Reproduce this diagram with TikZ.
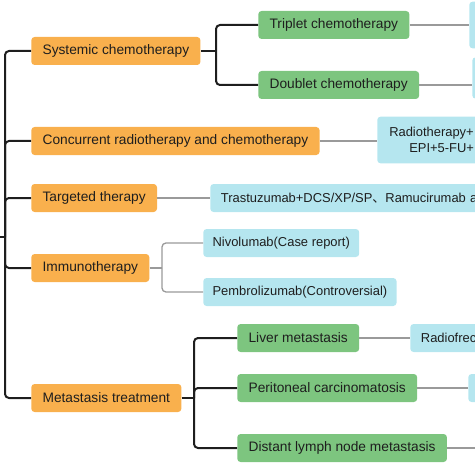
\documentclass[tikz,border=0pt]{standalone}
\usepackage{fontspec}
\setmainfont{Liberation Sans}
\newfontfamily\cjk{Noto Sans CJK SC}
\usepackage{tikz}
\definecolor{mm01}{HTML}{F9B04D}
\definecolor{mm02}{HTML}{7DC57F}
\definecolor{mm03}{HTML}{B5E6EF}
\definecolor{mm08}{HTML}{1E1E1E}
\definecolor{mm09}{HTML}{9A9A9A}
\tikzset{
  lvl1/.style={rectangle, rounded corners=2.5pt, fill=mm01, text=mm08, anchor=west,
    minimum height=21pt, inner xsep=8.5pt, font=\fontsize{10.3}{13}\selectfont},
  lvl2/.style={lvl1, fill=mm02},
  lvl3/.style={lvl1, fill=mm03, inner xsep=7pt, font=\fontsize{9.7}{12.5}\selectfont},
  trunk/.style={line width=1.5pt, mm08, rounded corners=3pt},
  twig/.style={line width=1pt, mm09, rounded corners=3pt},
}
\begin{document}
\begin{tikzpicture}[x=0.75pt,y=-0.75pt]
            \useasboundingbox (0,0) rectangle (474,474);
            % first level
            \node[lvl1] (sys) at (31,51) {Systemic chemotherapy};
            \node[lvl1] (ccrt) at (31,141) {Concurrent radiotherapy and chemotherapy};
            \node[lvl1] (target) at (31,198) {Targeted therapy};
            \node[lvl1] (immuno) at (31,268) {Immunotherapy};
            \node[lvl1] (meta) at (31,398) {Metastasis treatment};
            % second level
            \node[lvl2] (triplet) at (258,25) {Triplet chemotherapy};
            \node[lvl2] (doublet) at (258,85) {Doublet chemotherapy};
            \node[lvl2] (liver) at (237,338) {Liver metastasis};
            \node[lvl2] (perit) at (237,388) {Peritoneal carcinomatosis};
            \node[lvl2] (lymph) at (237,448) {Distant lymph node metastasis};
            % third level
            \node[lvl3, minimum height=35pt, minimum width=40pt] (tripletnext) at (469,25) {};
            \node[lvl3, minimum height=31pt, minimum width=40pt] (doubletnext) at (472,78) {};
            \node[lvl3, minimum height=35pt, text width=130pt, inner xsep=9pt, align=left] (ccrtnext) at (377,140)
              {Radiotherapy+\\\hspace*{15pt}EPI+5-FU+};
            \node[lvl3, text width=250pt, inner xsep=8pt] (targetnext) at (210,198) {Trastuzumab+DCS/XP/SP{\cjk 、}Ramucirumab a};
            \node[lvl3] (nivo) at (203,243) {Nivolumab(Case report)};
            \node[lvl3] (pembro) at (203,292) {Pembrolizumab(Controversial)};
            \node[lvl3, text width=80pt, inner xsep=8pt] (livernext) at (410,338) {Radiofrec};
            \node[lvl3, minimum width=40pt] (peritnext) at (468,388) {};
            \coordinate (lymphnext) at (480,448);
            % forks
            \coordinate (root) at (-4,237);
            \coordinate (spine) at (5,237);
            \coordinate (sysfork) at (216,51);
            \coordinate (immunofork) at (162,268);
            \coordinate (metafork) at (194,398);
            % trunk lines
            \draw[trunk] (root) -- (spine);
            \foreach \n in {sys,ccrt,target,immuno,meta}
              \draw[trunk] (spine) |- (\n.west);
            \draw[trunk] (sys.east) -- (sysfork);
            \draw[trunk] (sysfork) |- (triplet.west);
            \draw[trunk] (sysfork) |- (doublet.west);
            \draw[trunk] (meta.east) -- (metafork);
            \foreach \n in {liver,perit,lymph}
              \draw[trunk] (metafork) |- (\n.west);
            % twig lines
            \draw[twig] (triplet.east) -- (tripletnext.west);
            \draw[twig] (doublet.east) -- (doublet.east -| doubletnext.west);
            \draw[twig] (ccrt.east) -- (ccrt.east -| ccrtnext.west);
            \draw[twig] (target.east) -- (targetnext.west);
            \draw[twig] (immuno.east) -- (immunofork);
            \draw[twig] (immunofork) |- (nivo.west);
            \draw[twig] (immunofork) |- (pembro.west);
            \draw[twig] (liver.east) -- (livernext.west);
            \draw[twig] (perit.east) -- (peritnext.west);
            \draw[twig] (lymph.east) -- (lymphnext);
        \end{tikzpicture}
\end{document}
